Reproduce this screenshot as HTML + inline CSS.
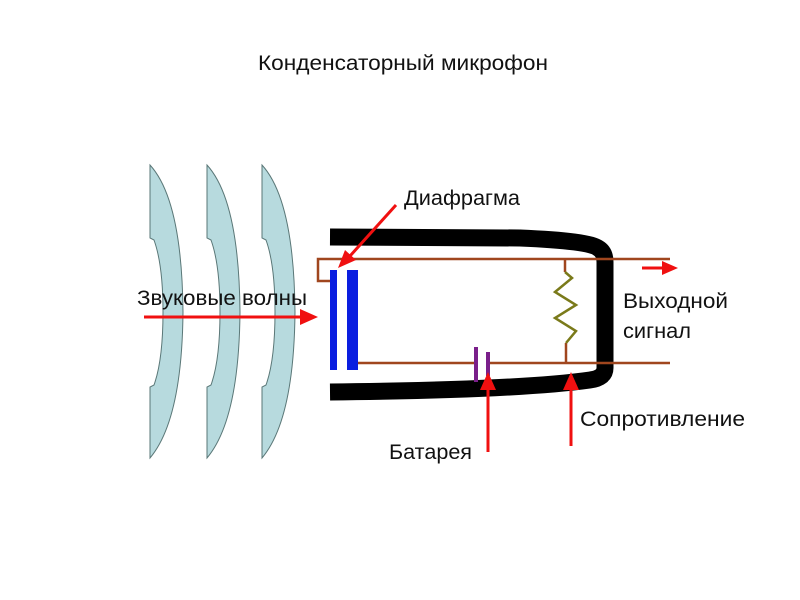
<!DOCTYPE html>
<html><head><meta charset="utf-8"><style>
html,body{margin:0;padding:0;background:#fff;width:800px;height:600px;overflow:hidden}
svg text{font-family:"Liberation Sans",sans-serif;fill:#111}
</style></head><body>
<svg width="800" height="600" viewBox="0 0 800 600" xmlns="http://www.w3.org/2000/svg">
<defs>
<path id="w" d="M150,165 Q182,200 183,312 Q182,420 150,458 L150,387 L154,385 Q163,360 163,312 Q163,265 154,240 L150,238 Z" fill="#b7dade" stroke="#5a7777" stroke-width="1"/>
</defs>
<text x="258" y="70" font-size="21" textLength="290" lengthAdjust="spacingAndGlyphs">Конденсаторный микрофон</text>
<use href="#w"/>
<use href="#w" x="57"/>
<use href="#w" x="112"/>
<!-- housing -->
<path d="M330,237 L520,238 Q590,241 598,248 Q605,252 605,262 L605,368 Q605,378 590,380 Q520,390 330,392" fill="none" stroke="#000" stroke-width="17"/>
<!-- wires -->
<g stroke="#a0461e" stroke-width="2.5" fill="none">
<path d="M330,281 L318,281 L318,259 L670,259"/>
<path d="M358,363 L475,363 M487,363 L670,363"/>
<path d="M565,259 L565,272"/>
<path d="M566,343 L566,363"/>
</g>
<polyline points="565,272 572,278 555,292 576,305 555,318 576,331 566,343" fill="none" stroke="#7a7a1a" stroke-width="2.5"/>
<rect x="330" y="270" width="7" height="100" fill="#0a1ee0"/>
<rect x="347" y="270" width="11" height="100" fill="#0a1ee0"/>
<rect x="474" y="347" width="4" height="35" fill="#7a1f8a"/>
<rect x="486" y="352" width="4" height="24" fill="#7a1f8a"/>
<!-- arrows -->
<g stroke="#f01010" stroke-width="3" fill="#f01010">
<line x1="144" y1="317" x2="300" y2="317"/><polygon points="318,317 300,309 300,325" stroke="none"/>
<line x1="396" y1="205" x2="350" y2="256"/><polygon points="338,268 345,250 356,260" stroke="none"/>
<line x1="488" y1="452" x2="488" y2="388"/><polygon points="488,372 480,390 496,390" stroke="none"/>
<line x1="571" y1="446" x2="571" y2="388"/><polygon points="571,372 563,390 579,390" stroke="none"/>
<line x1="642" y1="268" x2="662" y2="268"/><polygon points="678,268 662,261 662,275" stroke="none"/>
</g>
<text x="404" y="205" font-size="21" textLength="116" lengthAdjust="spacingAndGlyphs">Диафрагма</text>
<text x="137" y="305" font-size="21" textLength="170" lengthAdjust="spacingAndGlyphs">Звуковые волны</text>
<text x="623" y="308" font-size="21" textLength="105" lengthAdjust="spacingAndGlyphs">Выходной</text>
<text x="623" y="338" font-size="21" textLength="68" lengthAdjust="spacingAndGlyphs">сигнал</text>
<text x="580" y="426" font-size="21" textLength="165" lengthAdjust="spacingAndGlyphs">Сопротивление</text>
<text x="389" y="459" font-size="21" textLength="83" lengthAdjust="spacingAndGlyphs">Батарея</text>
</svg>
</body></html>
